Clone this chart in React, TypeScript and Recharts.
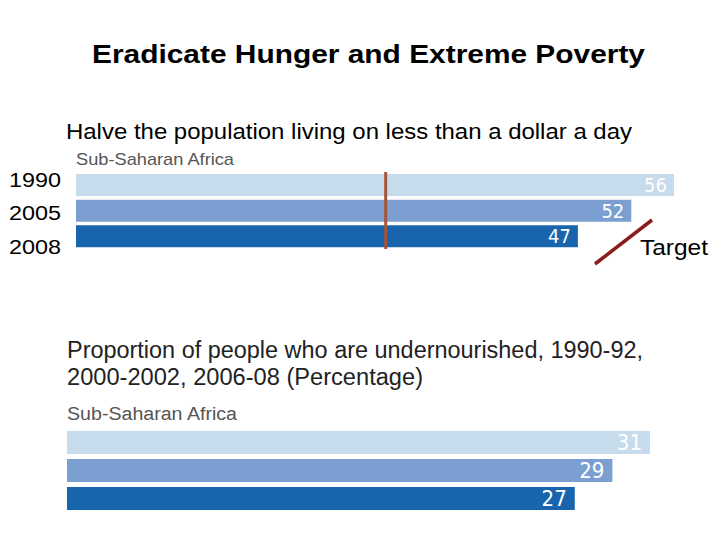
import React from "react";
import { BarChart, Bar, XAxis, YAxis, Cell, LabelList, ReferenceLine } from "recharts";

// ---- data ----
const povertyYears = ["1990", "2005", "2008"];
const povertyValues = [56, 52, 47];
const povertyTarget = 29;
const povertyMax = 56;

const hungerPeriods = ["1990-92", "2000-2002", "2006-08"];
const hungerValues = [31, 29, 27];
const hungerMax = 31;

const povertyData = povertyYears.map((year, i) => ({ year, value: povertyValues[i] }));
const hungerData = hungerPeriods.map((period, i) => ({ period, value: hungerValues[i] }));

const barColors = ["#c6dbec", "#7b9fd0", "#1865ae"];
const yearTickShift = [-5, 2, 11];
const labelFont = "'Liberation Sans Narrow', 'DejaVu Sans Condensed', 'Liberation Sans', sans-serif";
const mainFont = "'Liberation Sans', Arial, sans-serif";

const YearTick = (props: any) => {
  const { x, y, payload, index } = props;
  return (
    <text
      x={x - 52}
      y={y + (yearTickShift[index] || 0)}
      dy="0.355em"
      textAnchor="start"
      fontSize={20}
      fontFamily={mainFont}
      fill="#000"
      textLength={52}
      lengthAdjust="spacingAndGlyphs"
    >
      {payload.value}
    </text>
  );
};

export default function App() {
  return (
    <div
      style={{
        position: "absolute",
        left: 0,
        top: 0,
        width: 720,
        height: 540,
        background: "#ffffff",
        overflow: "hidden",
      }}
    >
      <div style={{ position: "absolute", left: 0, top: 160 }}>
        <BarChart
          width={674}
          height={101}
          data={povertyData}
          layout="vertical"
          margin={{ top: 12, right: 0, bottom: 12, left: 0 }}
        >
          <XAxis type="number" domain={[0, povertyMax]} hide />
          <YAxis
            type="category"
            dataKey="year"
            width={76}
            axisLine={false}
            tickLine={false}
            tickSize={0}
            tickMargin={15}
            interval={0}
            tick={<YearTick />}
          />
          <Bar dataKey="value" barSize={22} isAnimationActive={false}>
            {povertyData.map((d, i) => (
              <Cell key={d.year} fill={barColors[i]} />
            ))}
            <LabelList
              dataKey="value"
              position="insideRight"
              offset={7}
              fill="#ffffff"
              fontSize={20}
              fontFamily={labelFont}
            />
          </Bar>
          <ReferenceLine x={povertyTarget} stroke="#a65438" strokeWidth={3} />
        </BarChart>
      </div>

      <div style={{ position: "absolute", left: 67, top: 428 }}>
        <BarChart
          width={583}
          height={84}
          data={hungerData}
          layout="vertical"
          margin={{ top: 0, right: 0, bottom: 0, left: 0 }}
        >
          <XAxis type="number" domain={[0, hungerMax]} hide />
          <YAxis type="category" dataKey="period" hide />
          <Bar dataKey="value" barSize={23} isAnimationActive={false}>
            {hungerData.map((d, i) => (
              <Cell key={d.period} fill={barColors[i]} />
            ))}
            <LabelList
              dataKey="value"
              position="insideRight"
              offset={8}
              fill="#ffffff"
              fontSize={22}
              fontFamily={labelFont}
            />
          </Bar>
        </BarChart>
      </div>

      <svg
        width={720}
        height={540}
        style={{ position: "absolute", left: 0, top: 0, pointerEvents: "none" }}
      >
        <text
          x={92}
          y={63}
          fontSize={26}
          fontWeight="bold"
          fontFamily={mainFont}
          fill="#000"
          textLength={553}
          lengthAdjust="spacingAndGlyphs"
        >
          Eradicate Hunger and Extreme Poverty
        </text>
        <text
          x={66}
          y={139}
          fontSize={22}
          fontFamily={mainFont}
          fill="#000"
          textLength={566}
          lengthAdjust="spacingAndGlyphs"
        >
          Halve the population living on less than a dollar a day
        </text>
        <text
          x={76}
          y={165}
          fontSize={17}
          fontFamily={mainFont}
          fill="#555"
          textLength={158}
          lengthAdjust="spacingAndGlyphs"
        >
          Sub-Saharan Africa
        </text>
        <line x1={595} y1={264} x2={652} y2={220} stroke="#8b1c1c" strokeWidth={3.5} />
        <text
          x={640}
          y={255}
          fontSize={22}
          fontFamily={mainFont}
          fill="#000"
          textLength={68}
          lengthAdjust="spacingAndGlyphs"
        >
          Target
        </text>
        <text
          x={67}
          y={358}
          fontSize={23}
          fontFamily={mainFont}
          fill="#222"
          textLength={576}
          lengthAdjust="spacingAndGlyphs"
        >
          Proportion of people who are undernourished, 1990-92,
        </text>
        <text
          x={67}
          y={385}
          fontSize={23}
          fontFamily={mainFont}
          fill="#222"
          textLength={356}
          lengthAdjust="spacingAndGlyphs"
        >
          2000-2002, 2006-08 (Percentage)
        </text>
        <text
          x={67}
          y={420}
          fontSize={18}
          fontFamily={mainFont}
          fill="#555"
          textLength={170}
          lengthAdjust="spacingAndGlyphs"
        >
          Sub-Saharan Africa
        </text>
      </svg>
    </div>
  );
}
